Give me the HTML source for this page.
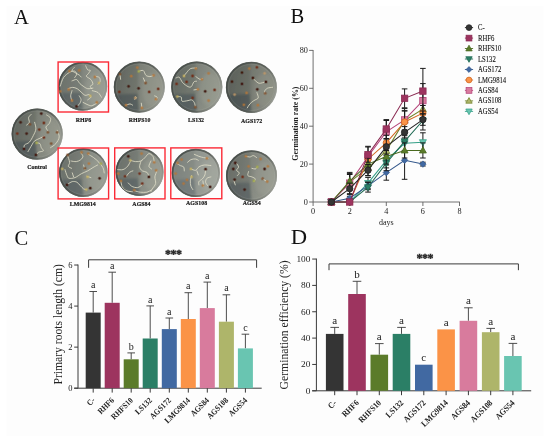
<!DOCTYPE html>
<html><head><meta charset="utf-8"><title>Figure</title>
<style>html,body{margin:0;padding:0;background:#fff}svg{display:block}text{font-family:"Liberation Serif","DejaVu Serif",serif}</style>
</head><body>
<svg width="550" height="436" viewBox="0 0 550 436">
<rect width="550" height="436" fill="#ffffff"/>
<rect x="6.5" y="6.2" width="537.1" height="430" fill="#fdfdfd"/>
<defs><linearGradient id="dl" x1="0" y1="0.4" x2="1" y2="0.6"><stop offset="0" stop-color="#686d66"/><stop offset="0.5" stop-color="#7e8279"/><stop offset="1" stop-color="#96998e"/></linearGradient><linearGradient id="rim" x1="0" y1="0.3" x2="1" y2="0.7"><stop offset="0" stop-color="#434946"/><stop offset="0.6" stop-color="#565b56"/><stop offset="0.9" stop-color="#8a8d86"/><stop offset="1" stop-color="#a0a39c"/></linearGradient><linearGradient id="rim2" x1="0" y1="0.3" x2="1" y2="0.7"><stop offset="0" stop-color="#8d928e"/><stop offset="1" stop-color="#b4b7b0"/></linearGradient><filter id="bl" x="-5%" y="-5%" width="110%" height="110%"><feGaussianBlur stdDeviation="0.35"/></filter><filter id="bl3" x="-20%" y="-20%" width="140%" height="140%"><feGaussianBlur stdDeviation="0.8"/></filter><filter id="bl2" x="-20%" y="-20%" width="140%" height="140%"><feGaussianBlur stdDeviation="1.6"/></filter></defs>
<text transform="translate(14 24.2) scale(1 1)" font-size="20.6" fill="#111">A</text>
<clipPath id="cp_control"><circle cx="37.2" cy="134.1" r="25.5"/></clipPath>
<g filter="url(#bl)">
<circle cx="37.2" cy="134.1" r="25.5" fill="url(#dl)"/>
<g clip-path="url(#cp_control)"><rect x="9.700000000000003" y="106.6" width="26.2" height="55.0" fill="#474d44" opacity="0.2" filter="url(#bl3)"/><path d="M9.700000000000003 141.8 L35.2 140.7 L37.7 162.2 L9.700000000000003 162.2 Z" fill="#36424c" opacity="0.42" filter="url(#bl3)"/><ellipse cx="50.0" cy="136.7" rx="10.2" ry="16.6" fill="#a0a296" opacity="0.3" filter="url(#bl2)"/></g>
<circle cx="37.2" cy="134.1" r="23.2" fill="none" stroke="url(#rim2)" stroke-width="0.6" opacity="0.3"/>
<circle cx="37.2" cy="134.1" r="24.8" fill="none" stroke="url(#rim)" stroke-width="1.7" opacity="0.88"/>
<path d="M31.3 114.3 C30.9 114.8 28.9 116.3 28.6 117.6 C28.3 118.9 29.6 121.1 29.3 122.3 C29.0 123.5 27.1 124.5 26.6 125.0" fill="none" stroke="#e2e0ca" stroke-width="0.95" stroke-linecap="round" stroke-linejoin="round" opacity="0.85"/>
<path d="M34.6 122.3 C34.8 123.4 36.1 126.7 35.9 128.9 C35.7 131.1 34.4 133.4 33.3 135.6 C32.2 137.8 30.8 140.6 29.3 142.2 C27.9 143.8 25.5 143.8 24.6 144.9 C23.7 146.0 24.1 148.2 24.0 148.9" fill="none" stroke="#e2e0ca" stroke-width="0.95" stroke-linecap="round" stroke-linejoin="round" opacity="0.85"/>
<path d="M46.6 115.0 C47.3 115.5 50.2 116.9 50.6 118.3 C51.0 119.7 50.0 122.1 49.2 123.6 C48.4 125.0 46.1 125.8 45.9 127.0 C45.7 128.2 47.6 130.2 47.9 130.9" fill="none" stroke="#e2e0ca" stroke-width="0.95" stroke-linecap="round" stroke-linejoin="round" opacity="0.85"/>
<path d="M43.9 136.3 C43.2 136.6 41.4 137.5 39.9 138.3 C38.4 139.1 35.9 139.8 34.6 140.9 C33.3 142.0 33.0 143.1 31.9 144.9 C30.8 146.7 28.6 150.5 28.0 151.6" fill="none" stroke="#e2e0ca" stroke-width="0.95" stroke-linecap="round" stroke-linejoin="round" opacity="0.85"/>
<path d="M36.6 142.9 C37.1 143.0 39.1 142.8 39.9 143.6 C40.7 144.4 40.7 146.4 41.3 147.6 C41.9 148.8 43.8 150.1 43.3 150.9 C42.8 151.7 39.8 151.5 38.6 152.2 C37.4 152.9 36.4 154.4 35.9 154.9" fill="none" stroke="#e2e0ca" stroke-width="0.95" stroke-linecap="round" stroke-linejoin="round" opacity="0.85"/>
<path d="M57.2 130.3 C57.5 131.4 59.4 134.7 59.2 136.9 C59.0 139.1 57.3 141.8 55.9 143.6 C54.5 145.4 51.5 146.9 50.6 147.6" fill="none" stroke="#e2e0ca" stroke-width="0.95" stroke-linecap="round" stroke-linejoin="round" opacity="0.85"/>
<circle cx="41.3" cy="113.6" r="1.9" fill="#40190f" opacity="0.3"/><circle cx="41.3" cy="113.6" r="1.15" fill="#40190f" opacity="0.95"/>
<circle cx="20.6" cy="122.3" r="1.9" fill="#40190f" opacity="0.3"/><circle cx="20.6" cy="122.3" r="1.15" fill="#40190f" opacity="0.95"/>
<circle cx="30" cy="124.3" r="1.9" fill="#7c4c2a" opacity="0.3"/><circle cx="30" cy="124.3" r="1.15" fill="#7c4c2a" opacity="0.75"/>
<circle cx="43.9" cy="123" r="1.9" fill="#70301c" opacity="0.3"/><circle cx="43.9" cy="123" r="1.15" fill="#70301c" opacity="0.95"/>
<circle cx="39.3" cy="129.6" r="1.9" fill="#70301c" opacity="0.3"/><circle cx="39.3" cy="129.6" r="1.15" fill="#70301c" opacity="0.95"/>
<circle cx="17.3" cy="133.6" r="1.9" fill="#70301c" opacity="0.3"/><circle cx="17.3" cy="133.6" r="1.15" fill="#70301c" opacity="0.95"/>
<circle cx="26.6" cy="133.6" r="1.9" fill="#40190f" opacity="0.3"/><circle cx="26.6" cy="133.6" r="1.15" fill="#40190f" opacity="0.95"/>
<circle cx="47.9" cy="132.3" r="1.9" fill="#7c4c2a" opacity="0.3"/><circle cx="47.9" cy="132.3" r="1.15" fill="#7c4c2a" opacity="0.75"/>
<circle cx="57.2" cy="132.3" r="1.9" fill="#7c4c2a" opacity="0.3"/><circle cx="57.2" cy="132.3" r="1.15" fill="#7c4c2a" opacity="0.75"/>
<circle cx="43.9" cy="137.6" r="1.9" fill="#70301c" opacity="0.3"/><circle cx="43.9" cy="137.6" r="1.15" fill="#70301c" opacity="0.95"/>
<circle cx="51.2" cy="143.6" r="1.9" fill="#7c4c2a" opacity="0.3"/><circle cx="51.2" cy="143.6" r="1.15" fill="#7c4c2a" opacity="0.75"/>
<circle cx="24" cy="148.9" r="1.9" fill="#40190f" opacity="0.3"/><circle cx="24" cy="148.9" r="1.15" fill="#40190f" opacity="0.95"/>
<circle cx="35.9" cy="154.9" r="1.9" fill="#40190f" opacity="0.3"/><circle cx="35.9" cy="154.9" r="1.15" fill="#40190f" opacity="0.95"/>
<circle cx="36.6" cy="142.9" r="1.9" fill="#a3aa4a" opacity="0.3"/><circle cx="36.6" cy="142.9" r="1.15" fill="#a3aa4a" opacity="0.75"/>
</g>
<clipPath id="cp_rhf6"><circle cx="82.8" cy="86.3" r="24.3"/></clipPath>
<g filter="url(#bl)">
<circle cx="82.8" cy="86.3" r="24.3" fill="url(#dl)"/>
<g clip-path="url(#cp_rhf6)"><rect x="56.5" y="60.0" width="25.1" height="52.6" fill="#474d44" opacity="0.2" filter="url(#bl3)"/><path d="M56.5 93.6 L80.9 92.6 L83.3 113.0 L56.5 113.0 Z" fill="#36424c" opacity="0.42" filter="url(#bl3)"/><ellipse cx="95.0" cy="88.7" rx="9.7" ry="15.8" fill="#a0a296" opacity="0.3" filter="url(#bl2)"/></g>
<circle cx="82.8" cy="86.3" r="24.3" fill="#c8d0d0" opacity="0.10"/>
<circle cx="82.8" cy="86.3" r="22.0" fill="none" stroke="url(#rim2)" stroke-width="0.6" opacity="0.3"/>
<circle cx="82.8" cy="86.3" r="23.6" fill="none" stroke="url(#rim)" stroke-width="1.7" opacity="0.88"/>
<path d="M60.2 86.1 C60.8 84.7 62.0 79.9 63.5 77.6 C65.0 75.3 67.6 73.5 69.4 72.4 C71.2 71.3 73.4 70.8 74.6 71.1 C75.8 71.4 76.6 73.2 76.6 74.3 C76.6 75.4 74.9 77.0 74.6 77.6" fill="none" stroke="#e2e0ca" stroke-width="0.95" stroke-linecap="round" stroke-linejoin="round" opacity="0.85"/>
<path d="M74.6 67.2 C74.2 67.7 72.0 69.5 72.0 70.4 C72.0 71.3 73.4 71.6 74.6 72.4 C75.8 73.2 78.1 74.2 79.2 75.0 C80.3 75.8 80.8 76.7 81.1 77.0" fill="none" stroke="#e2e0ca" stroke-width="0.95" stroke-linecap="round" stroke-linejoin="round" opacity="0.85"/>
<path d="M85.7 65.8 C86.0 66.5 86.9 69.0 87.7 69.8 C88.5 70.6 90.2 69.8 90.3 70.4 C90.4 71.1 88.9 72.7 88.3 73.7 C87.7 74.7 86.0 75.3 86.4 76.3 C86.8 77.3 89.8 78.3 90.9 79.6 C92.0 80.9 93.0 83.0 92.9 84.1 C92.8 85.2 90.5 85.3 90.3 86.1 C90.1 86.9 91.4 88.3 91.6 88.7" fill="none" stroke="#e2e0ca" stroke-width="0.95" stroke-linecap="round" stroke-linejoin="round" opacity="0.85"/>
<path d="M72.0 80.9 C72.8 80.7 75.3 79.2 76.6 79.6 C77.9 80.0 78.7 82.4 79.8 83.5 C80.9 84.6 81.8 85.2 83.1 86.1 C84.4 87.0 86.1 88.4 87.7 88.7 C89.3 89.0 92.0 88.2 92.9 88.1" fill="none" stroke="#e2e0ca" stroke-width="0.95" stroke-linecap="round" stroke-linejoin="round" opacity="0.85"/>
<path d="M68.1 88.7 C68.8 88.5 71.1 87.4 72.6 87.4 C74.1 87.4 75.8 87.9 77.2 88.7 C78.6 89.5 79.8 90.9 81.1 92.0 C82.4 93.1 83.8 94.9 85.1 95.3 C86.4 95.7 88.0 94.3 89.0 94.6 C90.0 94.9 91.1 96.3 90.9 97.2 C90.7 98.1 88.2 99.4 87.7 99.8" fill="none" stroke="#e2e0ca" stroke-width="0.95" stroke-linecap="round" stroke-linejoin="round" opacity="0.85"/>
<path d="M72.0 90.7 C71.8 91.6 70.7 94.2 70.7 95.9 C70.7 97.6 71.8 100.2 72.0 101.1" fill="none" stroke="#e2e0ca" stroke-width="0.95" stroke-linecap="round" stroke-linejoin="round" opacity="0.85"/>
<path d="M79.2 95.9 C79.5 96.6 81.1 98.4 81.1 99.8 C81.1 101.2 80.0 103.3 79.2 104.4 C78.5 105.5 77.0 106.1 76.6 106.4" fill="none" stroke="#e2e0ca" stroke-width="0.95" stroke-linecap="round" stroke-linejoin="round" opacity="0.85"/>
<path d="M95.5 76.3 C96.2 76.5 98.6 76.7 99.4 77.6 C100.2 78.5 100.3 80.4 100.1 81.5 C99.9 82.6 98.4 83.7 98.1 84.1" fill="none" stroke="#e2e0ca" stroke-width="0.95" stroke-linecap="round" stroke-linejoin="round" opacity="0.85"/>
<path d="M83.1 102.4 C83.8 102.7 85.6 103.9 87.0 104.4 C88.4 105.0 90.0 105.9 91.6 105.7 C93.2 105.5 95.9 103.5 96.8 103.1" fill="none" stroke="#e2e0ca" stroke-width="0.95" stroke-linecap="round" stroke-linejoin="round" opacity="0.85"/>
<path d="M92.3 90.7 C93.3 91.0 96.6 91.5 98.1 92.6 C99.6 93.7 100.9 96.4 101.4 97.2" fill="none" stroke="#e2e0ca" stroke-width="0.95" stroke-linecap="round" stroke-linejoin="round" opacity="0.85"/>
<circle cx="69.4" cy="71.1" r="1.9" fill="#b4763a" opacity="0.3"/><circle cx="69.4" cy="71.1" r="1.15" fill="#b4763a" opacity="0.75"/>
<circle cx="79.2" cy="70.4" r="1.9" fill="#b4763a" opacity="0.3"/><circle cx="79.2" cy="70.4" r="1.15" fill="#b4763a" opacity="0.75"/>
<circle cx="94.9" cy="77" r="1.9" fill="#b4763a" opacity="0.3"/><circle cx="94.9" cy="77" r="1.15" fill="#b4763a" opacity="0.75"/>
<circle cx="60.2" cy="91.3" r="1.9" fill="#b4763a" opacity="0.3"/><circle cx="60.2" cy="91.3" r="1.15" fill="#b4763a" opacity="0.75"/>
<circle cx="72" cy="100.5" r="1.9" fill="#b4763a" opacity="0.3"/><circle cx="72" cy="100.5" r="1.15" fill="#b4763a" opacity="0.75"/>
<circle cx="76.6" cy="106.4" r="1.9" fill="#40190f" opacity="0.3"/><circle cx="76.6" cy="106.4" r="1.15" fill="#40190f" opacity="0.95"/>
<circle cx="96.8" cy="102.4" r="1.9" fill="#b4763a" opacity="0.3"/><circle cx="96.8" cy="102.4" r="1.15" fill="#b4763a" opacity="0.75"/>
<circle cx="68.7" cy="89.4" r="1.9" fill="#b4763a" opacity="0.3"/><circle cx="68.7" cy="89.4" r="1.15" fill="#b4763a" opacity="0.75"/>
<circle cx="90.3" cy="95.9" r="1.9" fill="#c4b060" opacity="0.3"/><circle cx="90.3" cy="95.9" r="1.15" fill="#c4b060" opacity="0.75"/>
<circle cx="99" cy="83" r="1.9" fill="#c4b060" opacity="0.3"/><circle cx="99" cy="83" r="1.15" fill="#c4b060" opacity="0.75"/>
</g>
<clipPath id="cp_rhfs10"><circle cx="139.3" cy="87.1" r="25.4"/></clipPath>
<g filter="url(#bl)">
<circle cx="139.3" cy="87.1" r="25.4" fill="url(#dl)"/>
<g clip-path="url(#cp_rhfs10)"><rect x="111.9" y="59.699999999999996" width="26.1" height="54.8" fill="#474d44" opacity="0.2" filter="url(#bl3)"/><path d="M111.9 94.7 L137.3 93.7 L139.8 115.0 L111.9 115.0 Z" fill="#36424c" opacity="0.42" filter="url(#bl3)"/><ellipse cx="152.0" cy="89.6" rx="10.2" ry="16.5" fill="#a0a296" opacity="0.3" filter="url(#bl2)"/></g>
<circle cx="139.3" cy="87.1" r="23.099999999999998" fill="none" stroke="url(#rim2)" stroke-width="0.6" opacity="0.3"/>
<circle cx="139.3" cy="87.1" r="24.7" fill="none" stroke="url(#rim)" stroke-width="1.7" opacity="0.88"/>
<path d="M138.6 71.3 C139.4 71.2 142.1 69.9 143.3 70.6 C144.5 71.3 144.8 74.3 145.9 75.3 C147.0 76.3 148.7 76.5 149.9 76.6 C151.1 76.6 152.6 75.8 153.2 75.6" fill="none" stroke="#e2e0ca" stroke-width="0.95" stroke-linecap="round" stroke-linejoin="round" opacity="0.85"/>
<path d="M120.0 74.6 L120.6 79.3" fill="none" stroke="#e2e0ca" stroke-width="0.95" stroke-linecap="round" stroke-linejoin="round" opacity="0.85"/>
<path d="M143.3 78.0 L145.3 82.6" fill="none" stroke="#e2e0ca" stroke-width="0.95" stroke-linecap="round" stroke-linejoin="round" opacity="0.85"/>
<path d="M135.3 96.6 C135.5 96.8 136.7 97.5 136.6 97.9 C136.5 98.3 134.9 99.0 134.6 99.2" fill="none" stroke="#e2e0ca" stroke-width="0.95" stroke-linecap="round" stroke-linejoin="round" opacity="0.85"/>
<path d="M154.6 95.9 C155.0 96.1 157.0 96.5 157.2 97.2 C157.4 97.9 156.1 99.5 155.9 99.9" fill="none" stroke="#e2e0ca" stroke-width="0.95" stroke-linecap="round" stroke-linejoin="round" opacity="0.85"/>
<path d="M126.0 105.2 C126.7 105.0 128.9 103.9 130.0 103.9 C131.1 103.9 132.2 105.0 132.6 105.2" fill="none" stroke="#e2e0ca" stroke-width="0.95" stroke-linecap="round" stroke-linejoin="round" opacity="0.85"/>
<path d="M141.3 103.2 L141.9 107.9" fill="none" stroke="#e2e0ca" stroke-width="0.95" stroke-linecap="round" stroke-linejoin="round" opacity="0.85"/>
<circle cx="137.3" cy="67.6" r="1.9" fill="#b4763a" opacity="0.3"/><circle cx="137.3" cy="67.6" r="1.15" fill="#b4763a" opacity="0.75"/>
<circle cx="131.3" cy="76.2" r="1.9" fill="#b4763a" opacity="0.3"/><circle cx="131.3" cy="76.2" r="1.15" fill="#b4763a" opacity="0.75"/>
<circle cx="120" cy="74.2" r="1.9" fill="#7c4c2a" opacity="0.3"/><circle cx="120" cy="74.2" r="1.15" fill="#7c4c2a" opacity="0.75"/>
<circle cx="153.6" cy="75.3" r="1.9" fill="#b4763a" opacity="0.3"/><circle cx="153.6" cy="75.3" r="1.15" fill="#b4763a" opacity="0.75"/>
<circle cx="128.6" cy="86.3" r="1.9" fill="#40190f" opacity="0.3"/><circle cx="128.6" cy="86.3" r="1.15" fill="#40190f" opacity="0.95"/>
<circle cx="138.6" cy="88.3" r="1.9" fill="#40190f" opacity="0.3"/><circle cx="138.6" cy="88.3" r="1.15" fill="#40190f" opacity="0.95"/>
<circle cx="145.6" cy="83" r="1.9" fill="#7c4c2a" opacity="0.3"/><circle cx="145.6" cy="83" r="1.15" fill="#7c4c2a" opacity="0.75"/>
<circle cx="149.2" cy="91.9" r="1.9" fill="#70301c" opacity="0.3"/><circle cx="149.2" cy="91.9" r="1.15" fill="#70301c" opacity="0.95"/>
<circle cx="158.2" cy="88.9" r="1.9" fill="#70301c" opacity="0.3"/><circle cx="158.2" cy="88.9" r="1.15" fill="#70301c" opacity="0.95"/>
<circle cx="119.3" cy="91.9" r="1.9" fill="#70301c" opacity="0.3"/><circle cx="119.3" cy="91.9" r="1.15" fill="#70301c" opacity="0.95"/>
<circle cx="135.3" cy="97.9" r="1.9" fill="#c09868" opacity="0.3"/><circle cx="135.3" cy="97.9" r="1.15" fill="#c09868" opacity="0.75"/>
<circle cx="155.9" cy="99.2" r="1.9" fill="#b4763a" opacity="0.3"/><circle cx="155.9" cy="99.2" r="1.15" fill="#b4763a" opacity="0.75"/>
<circle cx="126" cy="105.2" r="1.9" fill="#b4763a" opacity="0.3"/><circle cx="126" cy="105.2" r="1.15" fill="#b4763a" opacity="0.75"/>
<circle cx="141.9" cy="107.9" r="1.9" fill="#b4763a" opacity="0.3"/><circle cx="141.9" cy="107.9" r="1.15" fill="#b4763a" opacity="0.75"/>
<circle cx="138.8" cy="71.4" r="1.9" fill="#a3aa4a" opacity="0.3"/><circle cx="138.8" cy="71.4" r="1.15" fill="#a3aa4a" opacity="0.75"/>
</g>
<clipPath id="cp_ls132"><circle cx="196.8" cy="87.1" r="25.5"/></clipPath>
<g filter="url(#bl)">
<circle cx="196.8" cy="87.1" r="25.5" fill="url(#dl)"/>
<g clip-path="url(#cp_ls132)"><rect x="169.3" y="59.599999999999994" width="26.2" height="55.0" fill="#474d44" opacity="0.2" filter="url(#bl3)"/><path d="M169.3 94.8 L194.8 93.7 L197.3 115.1 L169.3 115.1 Z" fill="#36424c" opacity="0.42" filter="url(#bl3)"/><ellipse cx="209.6" cy="89.6" rx="10.2" ry="16.6" fill="#a0a296" opacity="0.3" filter="url(#bl2)"/></g>
<circle cx="196.8" cy="87.1" r="25.5" fill="#c8d0d0" opacity="0.03"/>
<circle cx="196.8" cy="87.1" r="23.2" fill="none" stroke="url(#rim2)" stroke-width="0.6" opacity="0.3"/>
<circle cx="196.8" cy="87.1" r="24.8" fill="none" stroke="url(#rim)" stroke-width="1.7" opacity="0.88"/>
<path d="M196.6 68.0 C195.6 68.1 192.3 67.8 190.6 68.6 C188.9 69.4 187.7 71.4 186.6 72.6 C185.5 73.8 184.4 75.4 184.0 76.0" fill="none" stroke="#e2e0ca" stroke-width="0.95" stroke-linecap="round" stroke-linejoin="round" opacity="0.85"/>
<path d="M176.0 78.0 C176.6 77.9 178.2 76.5 179.3 77.3 C180.4 78.1 181.2 81.0 182.6 82.6 C184.0 84.1 186.6 85.9 188.0 86.6 C189.4 87.3 190.3 87.4 191.3 86.6 C192.3 85.8 193.0 82.8 193.9 81.9 C194.8 81.0 196.2 81.4 196.6 81.3" fill="none" stroke="#e2e0ca" stroke-width="0.95" stroke-linecap="round" stroke-linejoin="round" opacity="0.85"/>
<path d="M195.9 76.6 C196.6 77.0 198.8 79.0 199.9 79.3 C201.0 79.6 202.2 78.7 202.6 78.6" fill="none" stroke="#e2e0ca" stroke-width="0.95" stroke-linecap="round" stroke-linejoin="round" opacity="0.85"/>
<path d="M178.0 96.6 C178.6 96.7 180.6 96.4 181.3 97.2 C182.0 98.0 180.9 100.6 182.0 101.2 C183.1 101.8 186.3 100.8 188.0 100.6 C189.7 100.4 190.8 99.5 191.9 99.9 C193.0 100.3 194.0 102.0 194.6 103.2 C195.2 104.4 195.2 106.5 195.3 107.2" fill="none" stroke="#e2e0ca" stroke-width="0.95" stroke-linecap="round" stroke-linejoin="round" opacity="0.85"/>
<path d="M193.9 89.9 L197.9 89.3" fill="none" stroke="#e2e0ca" stroke-width="0.95" stroke-linecap="round" stroke-linejoin="round" opacity="0.85"/>
<circle cx="195.9" cy="68.6" r="1.9" fill="#b4763a" opacity="0.3"/><circle cx="195.9" cy="68.6" r="1.15" fill="#b4763a" opacity="0.75"/>
<circle cx="208.6" cy="73.3" r="1.9" fill="#b4763a" opacity="0.3"/><circle cx="208.6" cy="73.3" r="1.15" fill="#b4763a" opacity="0.75"/>
<circle cx="192.6" cy="76" r="1.9" fill="#70301c" opacity="0.3"/><circle cx="192.6" cy="76" r="1.15" fill="#70301c" opacity="0.95"/>
<circle cx="184" cy="76" r="1.9" fill="#c4b060" opacity="0.3"/><circle cx="184" cy="76" r="1.15" fill="#c4b060" opacity="0.75"/>
<circle cx="176.6" cy="83.9" r="1.9" fill="#70301c" opacity="0.3"/><circle cx="176.6" cy="83.9" r="1.15" fill="#70301c" opacity="0.95"/>
<circle cx="186.6" cy="81.9" r="1.9" fill="#70301c" opacity="0.3"/><circle cx="186.6" cy="81.9" r="1.15" fill="#70301c" opacity="0.95"/>
<circle cx="201.9" cy="79.3" r="1.9" fill="#b4763a" opacity="0.3"/><circle cx="201.9" cy="79.3" r="1.15" fill="#b4763a" opacity="0.75"/>
<circle cx="205.2" cy="91.3" r="1.9" fill="#40190f" opacity="0.3"/><circle cx="205.2" cy="91.3" r="1.15" fill="#40190f" opacity="0.95"/>
<circle cx="214.6" cy="89.9" r="1.9" fill="#70301c" opacity="0.3"/><circle cx="214.6" cy="89.9" r="1.15" fill="#70301c" opacity="0.95"/>
<circle cx="197.9" cy="89.3" r="1.9" fill="#b4763a" opacity="0.3"/><circle cx="197.9" cy="89.3" r="1.15" fill="#b4763a" opacity="0.75"/>
<circle cx="192.6" cy="97.9" r="1.9" fill="#70301c" opacity="0.3"/><circle cx="192.6" cy="97.9" r="1.15" fill="#70301c" opacity="0.95"/>
<circle cx="208.6" cy="100.6" r="1.9" fill="#b4763a" opacity="0.3"/><circle cx="208.6" cy="100.6" r="1.15" fill="#b4763a" opacity="0.75"/>
<circle cx="195.3" cy="107.2" r="1.9" fill="#7c4c2a" opacity="0.3"/><circle cx="195.3" cy="107.2" r="1.15" fill="#7c4c2a" opacity="0.75"/>
<circle cx="177.3" cy="96.6" r="1.9" fill="#c4b060" opacity="0.3"/><circle cx="177.3" cy="96.6" r="1.15" fill="#c4b060" opacity="0.75"/>
</g>
<clipPath id="cp_ags172"><circle cx="251.4" cy="87.4" r="25.4"/></clipPath>
<g filter="url(#bl)">
<circle cx="251.4" cy="87.4" r="25.4" fill="url(#dl)"/>
<g clip-path="url(#cp_ags172)"><rect x="224.0" y="60.00000000000001" width="26.1" height="54.8" fill="#474d44" opacity="0.2" filter="url(#bl3)"/><path d="M224.0 95.0 L249.4 94.0 L251.9 115.3 L224.0 115.3 Z" fill="#36424c" opacity="0.42" filter="url(#bl3)"/><ellipse cx="264.1" cy="89.9" rx="10.2" ry="16.5" fill="#a0a296" opacity="0.3" filter="url(#bl2)"/></g>
<circle cx="251.4" cy="87.4" r="25.4" fill="#000" opacity="0.05"/>
<circle cx="251.4" cy="87.4" r="23.099999999999998" fill="none" stroke="url(#rim2)" stroke-width="0.6" opacity="0.3"/>
<circle cx="251.4" cy="87.4" r="24.7" fill="none" stroke="url(#rim)" stroke-width="1.7" opacity="0.88"/>
<path d="M252.6 78.0 C253.1 78.4 254.2 79.7 255.3 80.6 C256.4 81.5 257.6 83.1 259.2 83.3 C260.8 83.5 264.2 82.1 265.2 81.9" fill="none" stroke="#e2e0ca" stroke-width="0.95" stroke-linecap="round" stroke-linejoin="round" opacity="0.85"/>
<path d="M272.6 87.3 C271.7 87.5 268.5 87.6 267.2 88.3 C265.9 89.0 264.9 90.4 264.6 91.3 C264.3 92.2 265.1 93.5 265.2 93.9" fill="none" stroke="#e2e0ca" stroke-width="0.95" stroke-linecap="round" stroke-linejoin="round" opacity="0.85"/>
<path d="M256.9 92.6 C257.1 93.5 258.7 96.6 258.2 97.9 C257.7 99.2 255.3 99.6 253.9 100.6 C252.5 101.6 251.0 102.7 249.9 103.9 C248.8 105.1 247.7 107.2 247.3 107.9" fill="none" stroke="#e2e0ca" stroke-width="0.95" stroke-linecap="round" stroke-linejoin="round" opacity="0.85"/>
<circle cx="249.3" cy="68.6" r="1.9" fill="#b4763a" opacity="0.3"/><circle cx="249.3" cy="68.6" r="1.15" fill="#b4763a" opacity="0.75"/>
<circle cx="256.9" cy="67.3" r="1.9" fill="#70301c" opacity="0.3"/><circle cx="256.9" cy="67.3" r="1.15" fill="#70301c" opacity="0.95"/>
<circle cx="242" cy="72.6" r="1.9" fill="#40190f" opacity="0.3"/><circle cx="242" cy="72.6" r="1.15" fill="#40190f" opacity="0.95"/>
<circle cx="264.6" cy="73.3" r="1.9" fill="#c09868" opacity="0.3"/><circle cx="264.6" cy="73.3" r="1.15" fill="#c09868" opacity="0.75"/>
<circle cx="252.9" cy="78" r="1.9" fill="#40190f" opacity="0.3"/><circle cx="252.9" cy="78" r="1.15" fill="#40190f" opacity="0.95"/>
<circle cx="232" cy="81.7" r="1.9" fill="#40190f" opacity="0.3"/><circle cx="232" cy="81.7" r="1.15" fill="#40190f" opacity="0.95"/>
<circle cx="242" cy="83.9" r="1.9" fill="#40190f" opacity="0.3"/><circle cx="242" cy="83.9" r="1.15" fill="#40190f" opacity="0.95"/>
<circle cx="265.9" cy="81.9" r="1.9" fill="#40190f" opacity="0.3"/><circle cx="265.9" cy="81.9" r="1.15" fill="#40190f" opacity="0.95"/>
<circle cx="257.3" cy="89.3" r="1.9" fill="#40190f" opacity="0.3"/><circle cx="257.3" cy="89.3" r="1.15" fill="#40190f" opacity="0.95"/>
<circle cx="246.6" cy="92.9" r="1.9" fill="#b4763a" opacity="0.3"/><circle cx="246.6" cy="92.9" r="1.15" fill="#b4763a" opacity="0.75"/>
<circle cx="234.6" cy="94.6" r="1.9" fill="#c09868" opacity="0.3"/><circle cx="234.6" cy="94.6" r="1.15" fill="#c09868" opacity="0.75"/>
<circle cx="265.2" cy="93.3" r="1.9" fill="#7c4c2a" opacity="0.3"/><circle cx="265.2" cy="93.3" r="1.15" fill="#7c4c2a" opacity="0.75"/>
<circle cx="243.9" cy="104.8" r="1.9" fill="#b4763a" opacity="0.3"/><circle cx="243.9" cy="104.8" r="1.15" fill="#b4763a" opacity="0.75"/>
<circle cx="257.9" cy="105.2" r="1.9" fill="#b4763a" opacity="0.3"/><circle cx="257.9" cy="105.2" r="1.15" fill="#b4763a" opacity="0.75"/>
</g>
<clipPath id="cp_lmg9814"><circle cx="83.3" cy="172.6" r="24.2"/></clipPath>
<g filter="url(#bl)">
<circle cx="83.3" cy="172.6" r="24.2" fill="url(#dl)"/>
<g clip-path="url(#cp_lmg9814)"><rect x="57.099999999999994" y="146.4" width="25.0" height="52.4" fill="#474d44" opacity="0.2" filter="url(#bl3)"/><path d="M57.099999999999994 179.9 L81.4 178.9 L83.8 199.2 L57.099999999999994 199.2 Z" fill="#36424c" opacity="0.42" filter="url(#bl3)"/><ellipse cx="95.4" cy="175.0" rx="9.7" ry="15.7" fill="#a0a296" opacity="0.3" filter="url(#bl2)"/></g>
<circle cx="83.3" cy="172.6" r="24.2" fill="#c8d0d0" opacity="0.10"/>
<circle cx="83.3" cy="172.6" r="21.9" fill="none" stroke="url(#rim2)" stroke-width="0.6" opacity="0.3"/>
<circle cx="83.3" cy="172.6" r="23.5" fill="none" stroke="url(#rim)" stroke-width="1.7" opacity="0.88"/>
<path d="M67.6 155.6 C67.9 156.7 69.5 160.5 69.6 162.3 C69.7 164.1 68.0 165.3 68.3 166.3 C68.6 167.3 71.0 168.0 71.6 168.3" fill="none" stroke="#e2e0ca" stroke-width="0.95" stroke-linecap="round" stroke-linejoin="round" opacity="0.85"/>
<path d="M71.0 161.0 C71.9 161.1 74.6 161.8 76.3 161.6 C78.0 161.4 79.8 160.5 80.9 159.6 C82.0 158.7 82.9 157.4 82.9 156.3 C82.9 155.2 81.2 153.6 80.9 153.0" fill="none" stroke="#e2e0ca" stroke-width="0.95" stroke-linecap="round" stroke-linejoin="round" opacity="0.85"/>
<path d="M88.3 154.3 C89.2 154.9 91.8 156.3 93.6 157.6 C95.4 158.9 97.4 160.6 98.9 162.3 C100.5 164.0 102.0 165.8 102.9 167.6 C103.8 169.4 104.0 172.0 104.2 172.9" fill="none" stroke="#e2e0ca" stroke-width="0.95" stroke-linecap="round" stroke-linejoin="round" opacity="0.85"/>
<path d="M65.0 169.6 C65.3 170.6 66.3 174.1 67.0 175.6 C67.7 177.1 67.7 178.0 69.0 178.3 C70.3 178.6 72.9 178.4 75.0 177.6 C77.1 176.8 79.5 174.7 81.6 173.6 C83.7 172.5 85.7 171.9 87.6 170.9 C89.5 169.9 91.2 168.6 92.9 167.6 C94.6 166.6 96.8 165.4 97.6 165.0" fill="none" stroke="#e2e0ca" stroke-width="0.95" stroke-linecap="round" stroke-linejoin="round" opacity="0.85"/>
<path d="M83.6 165.0 L84.9 169.6" fill="none" stroke="#e2e0ca" stroke-width="0.95" stroke-linecap="round" stroke-linejoin="round" opacity="0.85"/>
<path d="M72.3 172.9 L73.6 176.9" fill="none" stroke="#e2e0ca" stroke-width="0.95" stroke-linecap="round" stroke-linejoin="round" opacity="0.85"/>
<path d="M67.6 184.2 C68.4 183.8 70.8 181.9 72.3 181.6 C73.8 181.3 75.6 181.5 76.9 182.2 C78.2 182.9 79.2 184.5 80.3 185.6 C81.4 186.7 82.6 188.2 83.6 188.9 C84.6 189.6 85.8 189.5 86.3 189.6" fill="none" stroke="#e2e0ca" stroke-width="0.95" stroke-linecap="round" stroke-linejoin="round" opacity="0.85"/>
<path d="M86.9 176.3 L90.9 177.6" fill="none" stroke="#e2e0ca" stroke-width="0.95" stroke-linecap="round" stroke-linejoin="round" opacity="0.85"/>
<circle cx="67.6" cy="155" r="1.9" fill="#7c4c2a" opacity="0.3"/><circle cx="67.6" cy="155" r="1.15" fill="#7c4c2a" opacity="0.75"/>
<circle cx="81.6" cy="152.3" r="1.9" fill="#b4763a" opacity="0.3"/><circle cx="81.6" cy="152.3" r="1.15" fill="#b4763a" opacity="0.75"/>
<circle cx="88.3" cy="153.6" r="1.9" fill="#b4763a" opacity="0.3"/><circle cx="88.3" cy="153.6" r="1.15" fill="#b4763a" opacity="0.75"/>
<circle cx="88.9" cy="163.6" r="1.9" fill="#b4763a" opacity="0.3"/><circle cx="88.9" cy="163.6" r="1.15" fill="#b4763a" opacity="0.75"/>
<circle cx="99.6" cy="178.3" r="1.9" fill="#40190f" opacity="0.3"/><circle cx="99.6" cy="178.3" r="1.15" fill="#40190f" opacity="0.95"/>
<circle cx="90.3" cy="188.2" r="1.9" fill="#40190f" opacity="0.3"/><circle cx="90.3" cy="188.2" r="1.15" fill="#40190f" opacity="0.95"/>
<circle cx="67" cy="184.9" r="1.9" fill="#40190f" opacity="0.3"/><circle cx="67" cy="184.9" r="1.15" fill="#40190f" opacity="0.95"/>
<circle cx="62.3" cy="168.9" r="1.9" fill="#c4b060" opacity="0.3"/><circle cx="62.3" cy="168.9" r="1.15" fill="#c4b060" opacity="0.75"/>
<circle cx="100.9" cy="163.6" r="1.9" fill="#a3aa4a" opacity="0.3"/><circle cx="100.9" cy="163.6" r="1.15" fill="#a3aa4a" opacity="0.75"/>
<circle cx="87.6" cy="176.9" r="1.9" fill="#c4b060" opacity="0.3"/><circle cx="87.6" cy="176.9" r="1.15" fill="#c4b060" opacity="0.75"/>
<circle cx="84.9" cy="168.3" r="1.9" fill="#7c4c2a" opacity="0.3"/><circle cx="84.9" cy="168.3" r="1.15" fill="#7c4c2a" opacity="0.75"/>
<circle cx="86.3" cy="189.6" r="1.9" fill="#c4b060" opacity="0.3"/><circle cx="86.3" cy="189.6" r="1.15" fill="#c4b060" opacity="0.75"/>
</g>
<clipPath id="cp_ags84"><circle cx="139.6" cy="172.0" r="23.9"/></clipPath>
<g filter="url(#bl)">
<circle cx="139.6" cy="172.0" r="23.9" fill="url(#dl)"/>
<g clip-path="url(#cp_ags84)"><rect x="113.69999999999999" y="146.1" width="24.7" height="51.8" fill="#474d44" opacity="0.2" filter="url(#bl3)"/><path d="M113.69999999999999 179.2 L137.7 178.2 L140.1 198.3 L113.69999999999999 198.3 Z" fill="#36424c" opacity="0.42" filter="url(#bl3)"/><ellipse cx="151.5" cy="174.4" rx="9.6" ry="15.5" fill="#a0a296" opacity="0.3" filter="url(#bl2)"/></g>
<circle cx="139.6" cy="172.0" r="23.9" fill="#c8d0d0" opacity="0.10"/>
<circle cx="139.6" cy="172.0" r="21.599999999999998" fill="none" stroke="url(#rim2)" stroke-width="0.6" opacity="0.3"/>
<circle cx="139.6" cy="172.0" r="23.2" fill="none" stroke="url(#rim)" stroke-width="1.7" opacity="0.88"/>
<path d="M130.3 160.3 C131.2 160.5 133.8 161.5 135.6 161.6 C137.4 161.7 139.3 161.7 140.9 161.0 C142.5 160.3 143.6 158.8 144.9 157.6 C146.2 156.4 147.6 153.8 148.9 153.6 C150.2 153.4 152.0 155.0 152.9 156.3 C153.8 157.6 154.0 160.7 154.2 161.6" fill="none" stroke="#e2e0ca" stroke-width="0.95" stroke-linecap="round" stroke-linejoin="round" opacity="0.85"/>
<path d="M117.7 169.6 C118.6 169.6 121.3 170.1 123.0 169.6 C124.7 169.1 126.4 167.6 127.6 166.3 C128.8 165.0 129.9 162.4 130.3 161.6" fill="none" stroke="#e2e0ca" stroke-width="0.95" stroke-linecap="round" stroke-linejoin="round" opacity="0.85"/>
<path d="M140.9 161.6 C140.7 162.5 139.4 165.3 139.6 166.9 C139.8 168.5 141.1 170.0 142.3 170.9 C143.5 171.8 145.8 171.4 146.9 172.3 C148.0 173.2 148.6 175.6 148.9 176.3" fill="none" stroke="#e2e0ca" stroke-width="0.95" stroke-linecap="round" stroke-linejoin="round" opacity="0.85"/>
<path d="M150.9 161.0 C150.6 161.9 148.8 165.0 148.9 166.3 C149.0 167.6 151.2 168.5 151.6 168.9" fill="none" stroke="#e2e0ca" stroke-width="0.95" stroke-linecap="round" stroke-linejoin="round" opacity="0.85"/>
<path d="M126.3 176.3 C126.8 175.6 128.5 173.2 129.6 172.3 C130.7 171.4 132.3 171.1 132.9 170.9" fill="none" stroke="#e2e0ca" stroke-width="0.95" stroke-linecap="round" stroke-linejoin="round" opacity="0.85"/>
<path d="M156.9 170.9 C156.6 171.9 155.1 174.8 154.9 176.9 C154.7 179.0 156.1 181.6 155.6 183.6 C155.1 185.6 153.0 187.6 152.2 188.9 C151.4 190.2 151.1 191.2 150.9 191.6" fill="none" stroke="#e2e0ca" stroke-width="0.95" stroke-linecap="round" stroke-linejoin="round" opacity="0.85"/>
<path d="M121.0 181.6 C121.2 182.5 121.3 185.3 122.3 186.9 C123.3 188.5 125.3 190.1 127.0 190.9 C128.7 191.7 131.4 191.5 132.3 191.6" fill="none" stroke="#e2e0ca" stroke-width="0.95" stroke-linecap="round" stroke-linejoin="round" opacity="0.85"/>
<path d="M128.3 182.9 C128.9 183.4 130.1 185.4 131.6 186.2 C133.1 187.0 135.7 187.9 137.6 187.6 C139.5 187.3 142.0 184.8 142.9 184.2" fill="none" stroke="#e2e0ca" stroke-width="0.95" stroke-linecap="round" stroke-linejoin="round" opacity="0.85"/>
<path d="M134.9 190.9 C135.8 191.1 138.3 192.0 140.3 192.2 C142.3 192.4 145.1 192.5 146.9 192.2 C148.7 191.9 150.2 190.5 150.9 190.2" fill="none" stroke="#e2e0ca" stroke-width="0.95" stroke-linecap="round" stroke-linejoin="round" opacity="0.85"/>
<circle cx="128.3" cy="156.3" r="1.9" fill="#40190f" opacity="0.3"/><circle cx="128.3" cy="156.3" r="1.15" fill="#40190f" opacity="0.95"/>
<circle cx="141.6" cy="153.6" r="1.9" fill="#b4763a" opacity="0.3"/><circle cx="141.6" cy="153.6" r="1.15" fill="#b4763a" opacity="0.75"/>
<circle cx="154.2" cy="162.3" r="1.9" fill="#b4763a" opacity="0.3"/><circle cx="154.2" cy="162.3" r="1.15" fill="#b4763a" opacity="0.75"/>
<circle cx="130.3" cy="160.3" r="1.9" fill="#c4b060" opacity="0.3"/><circle cx="130.3" cy="160.3" r="1.15" fill="#c4b060" opacity="0.75"/>
<circle cx="139.6" cy="173.6" r="1.9" fill="#70301c" opacity="0.3"/><circle cx="139.6" cy="173.6" r="1.15" fill="#70301c" opacity="0.95"/>
<circle cx="148.9" cy="176.9" r="1.9" fill="#40190f" opacity="0.3"/><circle cx="148.9" cy="176.9" r="1.15" fill="#40190f" opacity="0.95"/>
<circle cx="125" cy="176.3" r="1.9" fill="#70301c" opacity="0.3"/><circle cx="125" cy="176.3" r="1.15" fill="#70301c" opacity="0.95"/>
<circle cx="142.3" cy="183.6" r="1.9" fill="#70301c" opacity="0.3"/><circle cx="142.3" cy="183.6" r="1.15" fill="#70301c" opacity="0.95"/>
<circle cx="134.3" cy="190.2" r="1.9" fill="#b4763a" opacity="0.3"/><circle cx="134.3" cy="190.2" r="1.15" fill="#b4763a" opacity="0.75"/>
<circle cx="121" cy="180.9" r="1.9" fill="#b4763a" opacity="0.3"/><circle cx="121" cy="180.9" r="1.15" fill="#b4763a" opacity="0.75"/>
<circle cx="156.2" cy="170.3" r="1.9" fill="#b4763a" opacity="0.3"/><circle cx="156.2" cy="170.3" r="1.15" fill="#b4763a" opacity="0.75"/>
<circle cx="118.3" cy="173.6" r="1.9" fill="#b4763a" opacity="0.3"/><circle cx="118.3" cy="173.6" r="1.15" fill="#b4763a" opacity="0.75"/>
</g>
<clipPath id="cp_ags108"><circle cx="195.8" cy="172.9" r="24.0"/></clipPath>
<g filter="url(#bl)">
<circle cx="195.8" cy="172.9" r="24.0" fill="url(#dl)"/>
<g clip-path="url(#cp_ags108)"><rect x="169.8" y="146.9" width="24.8" height="52.0" fill="#474d44" opacity="0.2" filter="url(#bl3)"/><path d="M169.8 180.1 L193.9 179.1 L196.3 199.3 L169.8 199.3 Z" fill="#36424c" opacity="0.42" filter="url(#bl3)"/><ellipse cx="207.8" cy="175.3" rx="9.6" ry="15.6" fill="#a0a296" opacity="0.3" filter="url(#bl2)"/></g>
<circle cx="195.8" cy="172.9" r="24.0" fill="#c8d0d0" opacity="0.26"/>
<circle cx="195.8" cy="172.9" r="21.7" fill="none" stroke="url(#rim2)" stroke-width="0.6" opacity="0.3"/>
<circle cx="195.8" cy="172.9" r="23.3" fill="none" stroke="url(#rim)" stroke-width="1.7" opacity="0.88"/>
<path d="M194.3 154.3 C195.1 154.6 197.4 155.8 198.9 156.3 C200.4 156.9 202.1 157.3 203.6 157.6 C205.1 157.9 207.4 158.2 208.2 158.3" fill="none" stroke="#e2e0ca" stroke-width="0.95" stroke-linecap="round" stroke-linejoin="round" opacity="0.85"/>
<path d="M187.6 162.3 C188.2 161.9 189.6 160.2 190.9 159.6 C192.2 159.0 194.4 158.9 195.6 159.0 C196.8 159.1 197.9 160.1 198.3 160.3" fill="none" stroke="#e2e0ca" stroke-width="0.95" stroke-linecap="round" stroke-linejoin="round" opacity="0.85"/>
<path d="M177.0 163.6 C177.6 163.9 179.2 165.0 180.3 165.6 C181.4 166.2 182.9 166.0 183.6 166.9 C184.3 167.8 184.2 170.2 184.3 170.9" fill="none" stroke="#e2e0ca" stroke-width="0.95" stroke-linecap="round" stroke-linejoin="round" opacity="0.85"/>
<path d="M190.9 168.9 C191.7 169.1 194.3 170.6 195.6 170.3 C196.9 170.0 197.5 167.8 198.9 166.9 C200.3 166.0 202.2 165.2 204.2 165.0 C206.2 164.8 209.8 165.5 210.9 165.6" fill="none" stroke="#e2e0ca" stroke-width="0.95" stroke-linecap="round" stroke-linejoin="round" opacity="0.85"/>
<path d="M205.6 169.6 C205.5 170.5 205.4 173.3 204.9 174.9 C204.4 176.5 203.3 177.8 202.3 178.9 C201.3 180.0 199.5 180.6 198.9 181.6 C198.3 182.6 198.9 184.3 198.9 184.9" fill="none" stroke="#e2e0ca" stroke-width="0.95" stroke-linecap="round" stroke-linejoin="round" opacity="0.85"/>
<path d="M191.6 175.6 C191.4 176.5 190.4 179.1 190.3 180.9 C190.2 182.7 190.5 184.8 190.9 186.2 C191.3 187.6 192.6 189.0 192.9 189.6" fill="none" stroke="#e2e0ca" stroke-width="0.95" stroke-linecap="round" stroke-linejoin="round" opacity="0.85"/>
<path d="M210.9 176.9 C210.2 177.1 207.8 177.4 206.9 178.3 C206.0 179.2 205.5 181.0 205.6 182.2 C205.7 183.4 207.3 185.0 207.6 185.6" fill="none" stroke="#e2e0ca" stroke-width="0.95" stroke-linecap="round" stroke-linejoin="round" opacity="0.85"/>
<path d="M196.9 170.9 L198.3 174.9" fill="none" stroke="#e2e0ca" stroke-width="0.95" stroke-linecap="round" stroke-linejoin="round" opacity="0.85"/>
<path d="M202.9 180.9 L203.6 186.2" fill="none" stroke="#e2e0ca" stroke-width="0.95" stroke-linecap="round" stroke-linejoin="round" opacity="0.85"/>
<circle cx="181.6" cy="159.6" r="1.9" fill="#b4763a" opacity="0.3"/><circle cx="181.6" cy="159.6" r="1.15" fill="#b4763a" opacity="0.75"/>
<circle cx="177.6" cy="163" r="1.9" fill="#b4763a" opacity="0.3"/><circle cx="177.6" cy="163" r="1.15" fill="#b4763a" opacity="0.75"/>
<circle cx="206.9" cy="158.3" r="1.9" fill="#b4763a" opacity="0.3"/><circle cx="206.9" cy="158.3" r="1.15" fill="#b4763a" opacity="0.75"/>
<circle cx="205.6" cy="169.2" r="1.9" fill="#40190f" opacity="0.3"/><circle cx="205.6" cy="169.2" r="1.15" fill="#40190f" opacity="0.95"/>
<circle cx="175.6" cy="173.6" r="1.9" fill="#b4763a" opacity="0.3"/><circle cx="175.6" cy="173.6" r="1.15" fill="#b4763a" opacity="0.75"/>
<circle cx="187" cy="179.9" r="1.9" fill="#b4763a" opacity="0.3"/><circle cx="187" cy="179.9" r="1.15" fill="#b4763a" opacity="0.75"/>
<circle cx="183.6" cy="183.6" r="1.9" fill="#b4763a" opacity="0.3"/><circle cx="183.6" cy="183.6" r="1.15" fill="#b4763a" opacity="0.75"/>
<circle cx="210.2" cy="186.9" r="1.9" fill="#40190f" opacity="0.3"/><circle cx="210.2" cy="186.9" r="1.15" fill="#40190f" opacity="0.95"/>
<circle cx="202.9" cy="185.6" r="1.9" fill="#b4763a" opacity="0.3"/><circle cx="202.9" cy="185.6" r="1.15" fill="#b4763a" opacity="0.75"/>
<circle cx="190.9" cy="168.9" r="1.9" fill="#c4b060" opacity="0.3"/><circle cx="190.9" cy="168.9" r="1.15" fill="#c4b060" opacity="0.75"/>
<circle cx="191.6" cy="176.9" r="1.9" fill="#c4b060" opacity="0.3"/><circle cx="191.6" cy="176.9" r="1.15" fill="#c4b060" opacity="0.75"/>
</g>
<clipPath id="cp_ags54"><circle cx="251.5" cy="175.8" r="25.4"/></clipPath>
<g filter="url(#bl)">
<circle cx="251.5" cy="175.8" r="25.4" fill="url(#dl)"/>
<g clip-path="url(#cp_ags54)"><rect x="224.1" y="148.4" width="26.1" height="54.8" fill="#474d44" opacity="0.2" filter="url(#bl3)"/><path d="M224.1 183.4 L249.5 182.4 L252.0 203.7 L224.1 203.7 Z" fill="#36424c" opacity="0.42" filter="url(#bl3)"/><ellipse cx="264.2" cy="178.3" rx="10.2" ry="16.5" fill="#a0a296" opacity="0.3" filter="url(#bl2)"/></g>
<circle cx="251.5" cy="175.8" r="25.4" fill="#c8d0d0" opacity="0.08"/>
<circle cx="251.5" cy="175.8" r="23.099999999999998" fill="none" stroke="url(#rim2)" stroke-width="0.6" opacity="0.3"/>
<circle cx="251.5" cy="175.8" r="24.7" fill="none" stroke="url(#rim)" stroke-width="1.7" opacity="0.88"/>
<path d="M245.9 156.3 C246.6 156.4 248.7 157.1 249.9 157.0 C251.1 156.9 252.2 155.5 253.3 155.6 C254.4 155.7 256.1 157.3 256.6 157.6" fill="none" stroke="#e2e0ca" stroke-width="0.95" stroke-linecap="round" stroke-linejoin="round" opacity="0.85"/>
<path d="M236.6 163.6 C236.9 164.2 238.6 165.9 238.6 167.0 C238.6 168.1 236.5 169.3 236.6 170.3 C236.7 171.3 239.2 172.0 239.3 172.9 C239.4 173.8 237.6 175.2 237.3 175.6" fill="none" stroke="#e2e0ca" stroke-width="0.95" stroke-linecap="round" stroke-linejoin="round" opacity="0.85"/>
<path d="M251.9 168.3 C252.5 168.4 254.4 169.2 255.3 169.0 C256.2 168.8 257.0 167.3 257.3 167.0" fill="none" stroke="#e2e0ca" stroke-width="0.95" stroke-linecap="round" stroke-linejoin="round" opacity="0.85"/>
<path d="M248.6 171.6 C248.5 172.3 247.3 174.7 247.9 175.6 C248.5 176.5 250.7 176.3 251.9 176.9 C253.1 177.5 255.0 178.1 255.3 178.9 C255.6 179.7 254.1 181.2 253.9 181.6" fill="none" stroke="#e2e0ca" stroke-width="0.95" stroke-linecap="round" stroke-linejoin="round" opacity="0.85"/>
<path d="M234.0 180.9 L235.3 184.9" fill="none" stroke="#e2e0ca" stroke-width="0.95" stroke-linecap="round" stroke-linejoin="round" opacity="0.85"/>
<path d="M261.9 178.3 L265.9 180.9" fill="none" stroke="#e2e0ca" stroke-width="0.95" stroke-linecap="round" stroke-linejoin="round" opacity="0.85"/>
<circle cx="245.9" cy="156.3" r="1.9" fill="#b4763a" opacity="0.3"/><circle cx="245.9" cy="156.3" r="1.15" fill="#b4763a" opacity="0.75"/>
<circle cx="260.6" cy="159" r="1.9" fill="#b4763a" opacity="0.3"/><circle cx="260.6" cy="159" r="1.15" fill="#b4763a" opacity="0.75"/>
<circle cx="235.3" cy="163" r="1.9" fill="#40190f" opacity="0.3"/><circle cx="235.3" cy="163" r="1.15" fill="#40190f" opacity="0.95"/>
<circle cx="233.3" cy="169" r="1.9" fill="#40190f" opacity="0.3"/><circle cx="233.3" cy="169" r="1.15" fill="#40190f" opacity="0.95"/>
<circle cx="248.6" cy="166.3" r="1.9" fill="#b4763a" opacity="0.3"/><circle cx="248.6" cy="166.3" r="1.15" fill="#b4763a" opacity="0.75"/>
<circle cx="267.9" cy="166.3" r="1.9" fill="#b4763a" opacity="0.3"/><circle cx="267.9" cy="166.3" r="1.15" fill="#b4763a" opacity="0.75"/>
<circle cx="264.6" cy="169" r="1.9" fill="#40190f" opacity="0.3"/><circle cx="264.6" cy="169" r="1.15" fill="#40190f" opacity="0.95"/>
<circle cx="257.3" cy="167" r="1.9" fill="#a3aa4a" opacity="0.3"/><circle cx="257.3" cy="167" r="1.15" fill="#a3aa4a" opacity="0.75"/>
<circle cx="242.6" cy="176.9" r="1.9" fill="#70301c" opacity="0.3"/><circle cx="242.6" cy="176.9" r="1.15" fill="#70301c" opacity="0.95"/>
<circle cx="234.6" cy="179.6" r="1.9" fill="#40190f" opacity="0.3"/><circle cx="234.6" cy="179.6" r="1.15" fill="#40190f" opacity="0.95"/>
<circle cx="253.9" cy="180.9" r="1.9" fill="#a3aa4a" opacity="0.3"/><circle cx="253.9" cy="180.9" r="1.15" fill="#a3aa4a" opacity="0.75"/>
<circle cx="262.6" cy="178.7" r="1.9" fill="#7c4c2a" opacity="0.3"/><circle cx="262.6" cy="178.7" r="1.15" fill="#7c4c2a" opacity="0.75"/>
<circle cx="267.2" cy="181.6" r="1.9" fill="#b4763a" opacity="0.3"/><circle cx="267.2" cy="181.6" r="1.15" fill="#b4763a" opacity="0.75"/>
<circle cx="244.6" cy="189.6" r="1.9" fill="#40190f" opacity="0.3"/><circle cx="244.6" cy="189.6" r="1.15" fill="#40190f" opacity="0.95"/>
</g>
<rect x="58.1" y="62.0" width="50.4" height="50.0" fill="none" stroke="#fb2a36" stroke-width="1.4"/>
<rect x="58.1" y="148.0" width="50.49999999999999" height="50.900000000000006" fill="none" stroke="#fb2a36" stroke-width="1.4"/>
<rect x="114.7" y="147.9" width="50.3" height="51.0" fill="none" stroke="#fb2a36" stroke-width="1.4"/>
<rect x="170.8" y="147.9" width="51.0" height="50.79999999999998" fill="none" stroke="#fb2a36" stroke-width="1.4"/>
<text transform="translate(83.5 121.7) scale(0.9 1.08)" font-size="6.6" font-weight="bold" text-anchor="middle" fill="#161616" stroke="#161616" stroke-width="0.18">RHF6</text>
<text transform="translate(139.6 121.8) scale(0.9 1.08)" font-size="6.6" font-weight="bold" text-anchor="middle" fill="#161616" stroke="#161616" stroke-width="0.18">RHFS10</text>
<text transform="translate(196 121.89999999999999) scale(0.9 1.08)" font-size="6.6" font-weight="bold" text-anchor="middle" fill="#161616" stroke="#161616" stroke-width="0.18">LS132</text>
<text transform="translate(251.6 122.7) scale(0.9 1.08)" font-size="6.6" font-weight="bold" text-anchor="middle" fill="#161616" stroke="#161616" stroke-width="0.18">AGS172</text>
<text transform="translate(37 169.0) scale(0.9 1.08)" font-size="6.6" font-weight="bold" text-anchor="middle" fill="#161616" stroke="#161616" stroke-width="0.18">Control</text>
<text transform="translate(82.8 205.9) scale(0.9 1.08)" font-size="6.6" font-weight="bold" text-anchor="middle" fill="#161616" stroke="#161616" stroke-width="0.18">LMG9814</text>
<text transform="translate(141.4 206.10000000000002) scale(0.9 1.08)" font-size="6.6" font-weight="bold" text-anchor="middle" fill="#161616" stroke="#161616" stroke-width="0.18">AGS84</text>
<text transform="translate(196.6 205.10000000000002) scale(0.9 1.08)" font-size="6.6" font-weight="bold" text-anchor="middle" fill="#161616" stroke="#161616" stroke-width="0.18">AGS108</text>
<text transform="translate(251.7 205.3) scale(0.9 1.08)" font-size="6.6" font-weight="bold" text-anchor="middle" fill="#161616" stroke="#161616" stroke-width="0.18">AGS54</text>
<text transform="translate(290.6 23.3) scale(1 1)" font-size="20.6" fill="#111">B</text>
<g stroke="#606060" stroke-width="0.9" fill="none">
<path d="M313.1 50.00000000000001 V202.0 H459.9"/>
<path d="M309.1 202.0 H313.1"/>
<path d="M309.1 164.1 H313.1"/>
<path d="M309.1 126.2 H313.1"/>
<path d="M309.1 88.3 H313.1"/>
<path d="M309.1 50.400000000000006 H313.1"/>
<path d="M313.1 202.0 V206.0"/>
<path d="M349.70000000000005 202.0 V206.0"/>
<path d="M386.3 202.0 V206.0"/>
<path d="M422.90000000000003 202.0 V206.0"/>
<path d="M459.5 202.0 V206.0"/>
</g>
<text transform="translate(307.90000000000003 204.5) scale(1.08 1)" font-size="7.6" text-anchor="end" fill="#222">0</text>
<text transform="translate(307.90000000000003 166.6) scale(1.08 1)" font-size="7.6" text-anchor="end" fill="#222">20</text>
<text transform="translate(307.90000000000003 128.7) scale(1.08 1)" font-size="7.6" text-anchor="end" fill="#222">40</text>
<text transform="translate(307.90000000000003 90.8) scale(1.08 1)" font-size="7.6" text-anchor="end" fill="#222">60</text>
<text transform="translate(307.90000000000003 52.900000000000006) scale(1.08 1)" font-size="7.6" text-anchor="end" fill="#222">80</text>
<text transform="translate(313.1 214.3) scale(1.08 1)" font-size="7.6" text-anchor="middle" fill="#222">0</text>
<text transform="translate(349.70000000000005 214.3) scale(1.08 1)" font-size="7.6" text-anchor="middle" fill="#222">2</text>
<text transform="translate(386.3 214.3) scale(1.08 1)" font-size="7.6" text-anchor="middle" fill="#222">4</text>
<text transform="translate(422.90000000000003 214.3) scale(1.08 1)" font-size="7.6" text-anchor="middle" fill="#222">6</text>
<text transform="translate(459.5 214.3) scale(1.08 1)" font-size="7.6" text-anchor="middle" fill="#222">8</text>
<text x="386.3" y="225.4" font-size="8" text-anchor="middle" fill="#222">days</text>
<text transform="translate(297.5 123.6) rotate(-90)" font-size="7.9" font-weight="bold" text-anchor="middle" fill="#222">Germination rate (%)</text>
<path d="M368.0 177.4 V188.7 M365.2 177.4 h5.6 M365.2 188.7 h5.6" stroke="#1a1a1a" stroke-width="1" fill="none"/>
<path d="M386.3 152.7 V167.9 M383.5 152.7 h5.6 M383.5 167.9 h5.6" stroke="#1a1a1a" stroke-width="1" fill="none"/>
<path d="M404.6 135.7 V150.8 M401.8 135.7 h5.6 M401.8 150.8 h5.6" stroke="#1a1a1a" stroke-width="1" fill="none"/>
<path d="M422.9 132.8 V151.8 M420.1 132.8 h5.6 M420.1 151.8 h5.6" stroke="#1a1a1a" stroke-width="1" fill="none"/>
<polyline points="331.4,202.0 349.7,202.0 368.0,183.1 386.3,160.3 404.6,143.3 422.9,142.3" fill="none" stroke="#35a088" stroke-width="1.05"/>
<path d="M331.4 205.7 L334.9 199.4 L327.9 199.4 Z" fill="#69c5b1" stroke="#35a088" stroke-width="0.75"/>
<path d="M349.7 205.7 L353.2 199.4 L346.2 199.4 Z" fill="#69c5b1" stroke="#35a088" stroke-width="0.75"/>
<path d="M368.0 186.7 L371.5 180.5 L364.5 180.5 Z" fill="#69c5b1" stroke="#35a088" stroke-width="0.75"/>
<path d="M386.3 164.0 L389.8 157.8 L382.8 157.8 Z" fill="#69c5b1" stroke="#35a088" stroke-width="0.75"/>
<path d="M404.6 146.9 L408.1 140.7 L401.1 140.7 Z" fill="#69c5b1" stroke="#35a088" stroke-width="0.75"/>
<path d="M422.9 146.0 L426.4 139.7 L419.4 139.7 Z" fill="#69c5b1" stroke="#35a088" stroke-width="0.75"/>
<path d="M349.7 174.5 V189.7 M346.9 174.5 h5.6 M346.9 189.7 h5.6" stroke="#1a1a1a" stroke-width="1" fill="none"/>
<path d="M368.0 160.3 V175.5 M365.2 160.3 h5.6 M365.2 175.5 h5.6" stroke="#1a1a1a" stroke-width="1" fill="none"/>
<path d="M386.3 141.4 V160.3 M383.5 141.4 h5.6 M383.5 160.3 h5.6" stroke="#1a1a1a" stroke-width="1" fill="none"/>
<path d="M404.6 111.0 V130.0 M401.8 111.0 h5.6 M401.8 130.0 h5.6" stroke="#1a1a1a" stroke-width="1" fill="none"/>
<path d="M422.9 97.8 V120.5 M420.1 97.8 h5.6 M420.1 120.5 h5.6" stroke="#1a1a1a" stroke-width="1" fill="none"/>
<polyline points="331.4,202.0 349.7,182.1 368.0,167.9 386.3,150.8 404.6,120.5 422.9,109.1" fill="none" stroke="#71832a" stroke-width="1.05"/>
<path d="M331.4 198.3 L334.9 204.6 L327.9 204.6 Z" fill="#aeb56a" stroke="#71832a" stroke-width="0.75"/>
<path d="M349.7 178.4 L353.2 184.7 L346.2 184.7 Z" fill="#aeb56a" stroke="#71832a" stroke-width="0.75"/>
<path d="M368.0 164.2 L371.5 170.4 L364.5 170.4 Z" fill="#aeb56a" stroke="#71832a" stroke-width="0.75"/>
<path d="M386.3 147.2 L389.8 153.4 L382.8 153.4 Z" fill="#aeb56a" stroke="#71832a" stroke-width="0.75"/>
<path d="M404.6 116.8 L408.1 123.1 L401.1 123.1 Z" fill="#aeb56a" stroke="#71832a" stroke-width="0.75"/>
<path d="M422.9 105.5 L426.4 111.7 L419.4 111.7 Z" fill="#aeb56a" stroke="#71832a" stroke-width="0.75"/>
<path d="M349.7 172.4 V193.7 M346.9 172.4 h5.6 M346.9 193.7 h5.6" stroke="#1a1a1a" stroke-width="1" fill="none"/>
<path d="M368.0 146.3 V166.8 M365.2 146.3 h5.6 M365.2 166.8 h5.6" stroke="#1a1a1a" stroke-width="1" fill="none"/>
<path d="M386.3 120.5 V143.3 M383.5 120.5 h5.6 M383.5 143.3 h5.6" stroke="#1a1a1a" stroke-width="1" fill="none"/>
<path d="M404.6 108.6 V131.3 M401.8 108.6 h5.6 M401.8 131.3 h5.6" stroke="#1a1a1a" stroke-width="1" fill="none"/>
<path d="M422.9 83.6 V117.7 M420.1 83.6 h5.6 M420.1 117.7 h5.6" stroke="#1a1a1a" stroke-width="1" fill="none"/>
<polyline points="331.4,202.0 349.7,183.1 368.0,156.5 386.3,131.9 404.6,119.9 422.9,100.6" fill="none" stroke="#b5447a" stroke-width="1.05"/>
<rect x="328.2" y="198.8" width="6.4" height="6.4" fill="#d87b9d" stroke="#b5447a" stroke-width="0.75"/>
<rect x="346.5" y="179.9" width="6.4" height="6.4" fill="#d87b9d" stroke="#b5447a" stroke-width="0.75"/>
<rect x="364.8" y="153.3" width="6.4" height="6.4" fill="#d87b9d" stroke="#b5447a" stroke-width="0.75"/>
<rect x="383.1" y="128.7" width="6.4" height="6.4" fill="#d87b9d" stroke="#b5447a" stroke-width="0.75"/>
<rect x="401.4" y="116.7" width="6.4" height="6.4" fill="#d87b9d" stroke="#b5447a" stroke-width="0.75"/>
<rect x="419.7" y="97.4" width="6.4" height="6.4" fill="#d87b9d" stroke="#b5447a" stroke-width="0.75"/>
<path d="M368.0 153.5 V164.9 M365.2 153.5 h5.6 M365.2 164.9 h5.6" stroke="#1a1a1a" stroke-width="1" fill="none"/>
<path d="M386.3 135.3 V150.5 M383.5 135.3 h5.6 M383.5 150.5 h5.6" stroke="#1a1a1a" stroke-width="1" fill="none"/>
<path d="M404.6 110.7 V133.4 M401.8 110.7 h5.6 M401.8 133.4 h5.6" stroke="#1a1a1a" stroke-width="1" fill="none"/>
<path d="M422.9 105.5 V120.7 M420.1 105.5 h5.6 M420.1 120.7 h5.6" stroke="#1a1a1a" stroke-width="1" fill="none"/>
<polyline points="331.4,202.0 349.7,202.0 368.0,159.2 386.3,142.9 404.6,122.0 422.9,113.1" fill="none" stroke="#d0671f" stroke-width="1.05"/>
<circle cx="331.4" cy="202.0" r="3.2" fill="#fb9347" stroke="#d0671f" stroke-width="0.75"/>
<circle cx="349.7" cy="202.0" r="3.2" fill="#fb9347" stroke="#d0671f" stroke-width="0.75"/>
<circle cx="368.0" cy="159.2" r="3.2" fill="#fb9347" stroke="#d0671f" stroke-width="0.75"/>
<circle cx="386.3" cy="142.9" r="3.2" fill="#fb9347" stroke="#d0671f" stroke-width="0.75"/>
<circle cx="404.6" cy="122.0" r="3.2" fill="#fb9347" stroke="#d0671f" stroke-width="0.75"/>
<circle cx="422.9" cy="113.1" r="3.2" fill="#fb9347" stroke="#d0671f" stroke-width="0.75"/>
<path d="M349.7 196.3 V200.1 M346.9 196.3 h5.6 M346.9 200.1 h5.6" stroke="#1a1a1a" stroke-width="1" fill="none"/>
<path d="M368.0 182.1 V189.7 M365.2 182.1 h5.6 M365.2 189.7 h5.6" stroke="#1a1a1a" stroke-width="1" fill="none"/>
<path d="M386.3 165.0 V180.2 M383.5 165.0 h5.6 M383.5 180.2 h5.6" stroke="#1a1a1a" stroke-width="1" fill="none"/>
<path d="M404.6 141.4 V179.3 M401.8 141.4 h5.6 M401.8 179.3 h5.6" stroke="#1a1a1a" stroke-width="1" fill="none"/>
<path d="M422.9 162.2 V166.0 M420.1 162.2 h5.6 M420.1 166.0 h5.6" stroke="#1a1a1a" stroke-width="1" fill="none"/>
<polyline points="331.4,202.0 349.7,198.2 368.0,185.9 386.3,172.6 404.6,160.3 422.9,164.1" fill="none" stroke="#34588c" stroke-width="1.05"/>
<path d="M331.4 198.8 L334.6 202.0 L331.4 205.2 L328.2 202.0 Z" fill="#4169a2" stroke="#34588c" stroke-width="0.75"/>
<path d="M349.7 195.0 L352.9 198.2 L349.7 201.4 L346.5 198.2 Z" fill="#4169a2" stroke="#34588c" stroke-width="0.75"/>
<path d="M368.0 182.7 L371.2 185.9 L368.0 189.1 L364.8 185.9 Z" fill="#4169a2" stroke="#34588c" stroke-width="0.75"/>
<path d="M386.3 169.4 L389.5 172.6 L386.3 175.8 L383.1 172.6 Z" fill="#4169a2" stroke="#34588c" stroke-width="0.75"/>
<path d="M404.6 157.1 L407.8 160.3 L404.6 163.5 L401.4 160.3 Z" fill="#4169a2" stroke="#34588c" stroke-width="0.75"/>
<path d="M422.9 160.9 L426.1 164.1 L422.9 167.3 L419.7 164.1 Z" fill="#4169a2" stroke="#34588c" stroke-width="0.75"/>
<path d="M368.0 182.3 V192.1 M365.2 182.3 h5.6 M365.2 192.1 h5.6" stroke="#1a1a1a" stroke-width="1" fill="none"/>
<path d="M386.3 155.6 V170.7 M383.5 155.6 h5.6 M383.5 170.7 h5.6" stroke="#1a1a1a" stroke-width="1" fill="none"/>
<path d="M404.6 131.9 V150.8 M401.8 131.9 h5.6 M401.8 150.8 h5.6" stroke="#1a1a1a" stroke-width="1" fill="none"/>
<path d="M422.9 111.0 V130.0 M420.1 111.0 h5.6 M420.1 130.0 h5.6" stroke="#1a1a1a" stroke-width="1" fill="none"/>
<polyline points="331.4,202.0 349.7,202.0 368.0,187.2 386.3,163.2 404.6,141.4 422.9,120.5" fill="none" stroke="#1f6a54" stroke-width="1.05"/>
<path d="M331.4 205.7 L334.9 199.4 L327.9 199.4 Z" fill="#2b7f66" stroke="#1f6a54" stroke-width="0.75"/>
<path d="M349.7 205.7 L353.2 199.4 L346.2 199.4 Z" fill="#2b7f66" stroke="#1f6a54" stroke-width="0.75"/>
<path d="M368.0 190.9 L371.5 184.7 L364.5 184.7 Z" fill="#2b7f66" stroke="#1f6a54" stroke-width="0.75"/>
<path d="M386.3 166.8 L389.8 160.6 L382.8 160.6 Z" fill="#2b7f66" stroke="#1f6a54" stroke-width="0.75"/>
<path d="M404.6 145.0 L408.1 138.8 L401.1 138.8 Z" fill="#2b7f66" stroke="#1f6a54" stroke-width="0.75"/>
<path d="M422.9 124.2 L426.4 118.0 L419.4 118.0 Z" fill="#2b7f66" stroke="#1f6a54" stroke-width="0.75"/>
<path d="M349.7 173.6 V188.7 M346.9 173.6 h5.6 M346.9 188.7 h5.6" stroke="#1a1a1a" stroke-width="1" fill="none"/>
<path d="M368.0 158.4 V169.8 M365.2 158.4 h5.6 M365.2 169.8 h5.6" stroke="#1a1a1a" stroke-width="1" fill="none"/>
<path d="M386.3 148.9 V164.1 M383.5 148.9 h5.6 M383.5 164.1 h5.6" stroke="#1a1a1a" stroke-width="1" fill="none"/>
<path d="M404.6 142.9 V158.0 M401.8 142.9 h5.6 M401.8 158.0 h5.6" stroke="#1a1a1a" stroke-width="1" fill="none"/>
<path d="M422.9 142.9 V158.0 M420.1 142.9 h5.6 M420.1 158.0 h5.6" stroke="#1a1a1a" stroke-width="1" fill="none"/>
<polyline points="331.4,202.0 349.7,181.2 368.0,164.1 386.3,156.5 404.6,150.5 422.9,150.5" fill="none" stroke="#4a6a20" stroke-width="1.05"/>
<path d="M331.4 198.3 L334.9 204.6 L327.9 204.6 Z" fill="#5b7b2a" stroke="#4a6a20" stroke-width="0.75"/>
<path d="M349.7 177.5 L353.2 183.7 L346.2 183.7 Z" fill="#5b7b2a" stroke="#4a6a20" stroke-width="0.75"/>
<path d="M368.0 160.4 L371.5 166.7 L364.5 166.7 Z" fill="#5b7b2a" stroke="#4a6a20" stroke-width="0.75"/>
<path d="M386.3 152.8 L389.8 159.1 L382.8 159.1 Z" fill="#5b7b2a" stroke="#4a6a20" stroke-width="0.75"/>
<path d="M404.6 146.8 L408.1 153.0 L401.1 153.0 Z" fill="#5b7b2a" stroke="#4a6a20" stroke-width="0.75"/>
<path d="M422.9 146.8 L426.4 153.0 L419.4 153.0 Z" fill="#5b7b2a" stroke="#4a6a20" stroke-width="0.75"/>
<path d="M368.0 147.0 V162.2 M365.2 147.0 h5.6 M365.2 162.2 h5.6" stroke="#1a1a1a" stroke-width="1" fill="none"/>
<path d="M386.3 119.6 V138.5 M383.5 119.6 h5.6 M383.5 138.5 h5.6" stroke="#1a1a1a" stroke-width="1" fill="none"/>
<path d="M404.6 88.9 V107.8 M401.8 88.9 h5.6 M401.8 107.8 h5.6" stroke="#1a1a1a" stroke-width="1" fill="none"/>
<path d="M422.9 68.4 V113.9 M420.1 68.4 h5.6 M420.1 113.9 h5.6" stroke="#1a1a1a" stroke-width="1" fill="none"/>
<polyline points="331.4,202.0 349.7,202.0 368.0,154.6 386.3,129.0 404.6,98.3 422.9,91.1" fill="none" stroke="#8a2a52" stroke-width="1.05"/>
<rect x="328.2" y="198.8" width="6.4" height="6.4" fill="#9d345f" stroke="#8a2a52" stroke-width="0.75"/>
<rect x="346.5" y="198.8" width="6.4" height="6.4" fill="#9d345f" stroke="#8a2a52" stroke-width="0.75"/>
<rect x="364.8" y="151.4" width="6.4" height="6.4" fill="#9d345f" stroke="#8a2a52" stroke-width="0.75"/>
<rect x="383.1" y="125.8" width="6.4" height="6.4" fill="#9d345f" stroke="#8a2a52" stroke-width="0.75"/>
<rect x="401.4" y="95.1" width="6.4" height="6.4" fill="#9d345f" stroke="#8a2a52" stroke-width="0.75"/>
<rect x="419.7" y="87.9" width="6.4" height="6.4" fill="#9d345f" stroke="#8a2a52" stroke-width="0.75"/>
<path d="M349.7 183.1 V194.4 M346.9 183.1 h5.6 M346.9 194.4 h5.6" stroke="#1a1a1a" stroke-width="1" fill="none"/>
<path d="M368.0 164.5 V175.8 M365.2 164.5 h5.6 M365.2 175.8 h5.6" stroke="#1a1a1a" stroke-width="1" fill="none"/>
<path d="M386.3 139.1 V154.2 M383.5 139.1 h5.6 M383.5 154.2 h5.6" stroke="#1a1a1a" stroke-width="1" fill="none"/>
<path d="M404.6 126.6 V137.9 M401.8 126.6 h5.6 M401.8 137.9 h5.6" stroke="#1a1a1a" stroke-width="1" fill="none"/>
<path d="M422.9 113.9 V125.3 M420.1 113.9 h5.6 M420.1 125.3 h5.6" stroke="#1a1a1a" stroke-width="1" fill="none"/>
<polyline points="331.4,202.0 349.7,188.7 368.0,170.2 386.3,146.7 404.6,132.3 422.9,119.6" fill="none" stroke="#222" stroke-width="1.05"/>
<circle cx="331.4" cy="202.0" r="3.2" fill="#343434" stroke="#222" stroke-width="0.75"/>
<circle cx="349.7" cy="188.7" r="3.2" fill="#343434" stroke="#222" stroke-width="0.75"/>
<circle cx="368.0" cy="170.2" r="3.2" fill="#343434" stroke="#222" stroke-width="0.75"/>
<circle cx="386.3" cy="146.7" r="3.2" fill="#343434" stroke="#222" stroke-width="0.75"/>
<circle cx="404.6" cy="132.3" r="3.2" fill="#343434" stroke="#222" stroke-width="0.75"/>
<circle cx="422.9" cy="119.6" r="3.2" fill="#343434" stroke="#222" stroke-width="0.75"/>
<path d="M464.9 27.6 h8.2" stroke="#222" stroke-width="0.9"/>
<circle cx="469.0" cy="27.6" r="2.9" fill="#343434" stroke="#222" stroke-width="0.75"/>
<text transform="translate(478 30.1) scale(0.88 1)" font-size="7.6" fill="#111" stroke="#111" stroke-width="0.1">C-</text>
<path d="M464.9 38.1 h8.2" stroke="#8a2a52" stroke-width="0.9"/>
<rect x="466.1" y="35.2" width="5.8" height="5.8" fill="#9d345f" stroke="#8a2a52" stroke-width="0.75"/>
<text transform="translate(478 40.6) scale(0.88 1)" font-size="7.6" fill="#111" stroke="#111" stroke-width="0.1">RHF6</text>
<path d="M464.9 48.5 h8.2" stroke="#4a6a20" stroke-width="0.9"/>
<path d="M469.0 45.2 L472.2 50.9 L465.8 50.9 Z" fill="#5b7b2a" stroke="#4a6a20" stroke-width="0.75"/>
<text transform="translate(478 51.0) scale(0.88 1)" font-size="7.6" fill="#111" stroke="#111" stroke-width="0.1">RHFS10</text>
<path d="M464.9 59.0 h8.2" stroke="#1f6a54" stroke-width="0.9"/>
<path d="M469.0 62.3 L472.2 56.7 L465.8 56.7 Z" fill="#2b7f66" stroke="#1f6a54" stroke-width="0.75"/>
<text transform="translate(478 61.5) scale(0.88 1)" font-size="7.6" fill="#111" stroke="#111" stroke-width="0.1">LS132</text>
<path d="M464.9 69.5 h8.2" stroke="#34588c" stroke-width="0.9"/>
<path d="M469.0 66.6 L471.9 69.5 L469.0 72.4 L466.1 69.5 Z" fill="#4169a2" stroke="#34588c" stroke-width="0.75"/>
<text transform="translate(478 72.0) scale(0.88 1)" font-size="7.6" fill="#111" stroke="#111" stroke-width="0.1">AGS172</text>
<path d="M464.9 80.0 h8.2" stroke="#d0671f" stroke-width="0.9"/>
<circle cx="469.0" cy="80.0" r="2.9" fill="#fb9347" stroke="#d0671f" stroke-width="0.75"/>
<text transform="translate(478 82.5) scale(0.88 1)" font-size="7.6" fill="#111" stroke="#111" stroke-width="0.1">LMG9814</text>
<path d="M464.9 90.4 h8.2" stroke="#b5447a" stroke-width="0.9"/>
<rect x="466.1" y="87.5" width="5.8" height="5.8" fill="#d87b9d" stroke="#b5447a" stroke-width="0.75"/>
<text transform="translate(478 92.9) scale(0.88 1)" font-size="7.6" fill="#111" stroke="#111" stroke-width="0.1">AGS84</text>
<path d="M464.9 100.9 h8.2" stroke="#71832a" stroke-width="0.9"/>
<path d="M469.0 97.6 L472.2 103.2 L465.8 103.2 Z" fill="#aeb56a" stroke="#71832a" stroke-width="0.75"/>
<text transform="translate(478 103.4) scale(0.88 1)" font-size="7.6" fill="#111" stroke="#111" stroke-width="0.1">AGS108</text>
<path d="M464.9 111.4 h8.2" stroke="#35a088" stroke-width="0.9"/>
<path d="M469.0 114.7 L472.2 109.0 L465.8 109.0 Z" fill="#69c5b1" stroke="#35a088" stroke-width="0.75"/>
<text transform="translate(478 113.9) scale(0.88 1)" font-size="7.6" fill="#111" stroke="#111" stroke-width="0.1">AGS54</text>
<text transform="translate(14.5 244.5) scale(1 1)" font-size="20.6" fill="#111">C</text>
<g stroke="#3a3a3a" stroke-width="1" fill="none">
<path d="M78.0 264.52 V388.2 M74.2 388.2 H261.7"/>
<path d="M74.2 388.2 H78.0"/>
<path d="M74.2 347.14 H78.0"/>
<path d="M74.2 306.08 H78.0"/>
<path d="M74.2 265.02 H78.0"/>
</g>
<text transform="translate(72.60000000000001 390.7) scale(1.12 1)" font-size="7.6" text-anchor="end" fill="#222">0</text>
<text transform="translate(72.60000000000001 349.64) scale(1.12 1)" font-size="7.6" text-anchor="end" fill="#222">2</text>
<text transform="translate(72.60000000000001 308.58) scale(1.12 1)" font-size="7.6" text-anchor="end" fill="#222">4</text>
<text transform="translate(72.60000000000001 267.52) scale(1.12 1)" font-size="7.6" text-anchor="end" fill="#222">6</text>
<path d="M93.2 312.6 V291.5 M89.4 291.5 h7.6" stroke="#3a3a3a" stroke-width="0.9" fill="none"/>
<rect x="85.7" y="312.6" width="15.0" height="75.6" fill="#343434"/>
<path d="M93.2 388.2 v4.4" stroke="#3a3a3a" stroke-width="1"/>
<text x="93.2" y="288.1" font-size="10" text-anchor="middle" fill="#222">a</text>
<text transform="translate(95.6 400.8) rotate(-45) scale(0.94 1.05)" font-size="7.9" font-weight="bold" text-anchor="end" fill="#222">C-</text>
<path d="M112.2 302.8 V272.2 M108.4 272.2 h7.6" stroke="#3a3a3a" stroke-width="0.9" fill="none"/>
<rect x="104.7" y="302.8" width="15.0" height="85.4" fill="#9d345f"/>
<path d="M112.2 388.2 v4.4" stroke="#3a3a3a" stroke-width="1"/>
<text x="112.2" y="268.8" font-size="10" text-anchor="middle" fill="#222">a</text>
<text transform="translate(114.6 400.8) rotate(-45) scale(0.94 1.05)" font-size="7.9" font-weight="bold" text-anchor="end" fill="#222">RHF6</text>
<path d="M131.2 359.3 V352.9 M127.4 352.9 h7.6" stroke="#3a3a3a" stroke-width="0.9" fill="none"/>
<rect x="123.7" y="359.3" width="15.0" height="28.9" fill="#5b7b2a"/>
<path d="M131.2 388.2 v4.4" stroke="#3a3a3a" stroke-width="1"/>
<text x="131.2" y="349.5" font-size="10" text-anchor="middle" fill="#222">b</text>
<text transform="translate(133.6 400.8) rotate(-45) scale(0.94 1.05)" font-size="7.9" font-weight="bold" text-anchor="end" fill="#222">RHFS10</text>
<path d="M150.2 338.5 V305.9 M146.4 305.9 h7.6" stroke="#3a3a3a" stroke-width="0.9" fill="none"/>
<rect x="142.7" y="338.5" width="15.0" height="49.7" fill="#2b7f66"/>
<path d="M150.2 388.2 v4.4" stroke="#3a3a3a" stroke-width="1"/>
<text x="150.2" y="302.5" font-size="10" text-anchor="middle" fill="#222">a</text>
<text transform="translate(152.6 400.8) rotate(-45) scale(0.94 1.05)" font-size="7.9" font-weight="bold" text-anchor="end" fill="#222">LS132</text>
<path d="M169.3 329.1 V318.0 M165.5 318.0 h7.6" stroke="#3a3a3a" stroke-width="0.9" fill="none"/>
<rect x="161.8" y="329.1" width="15.0" height="59.1" fill="#4169a2"/>
<path d="M169.3 388.2 v4.4" stroke="#3a3a3a" stroke-width="1"/>
<text x="169.3" y="314.6" font-size="10" text-anchor="middle" fill="#222">a</text>
<text transform="translate(171.7 400.8) rotate(-45) scale(0.94 1.05)" font-size="7.9" font-weight="bold" text-anchor="end" fill="#222">AGS172</text>
<path d="M188.3 319.0 V292.7 M184.5 292.7 h7.6" stroke="#3a3a3a" stroke-width="0.9" fill="none"/>
<rect x="180.8" y="319.0" width="15.0" height="69.2" fill="#fb9347"/>
<path d="M188.3 388.2 v4.4" stroke="#3a3a3a" stroke-width="1"/>
<text x="188.3" y="289.3" font-size="10" text-anchor="middle" fill="#222">a</text>
<text transform="translate(190.7 400.8) rotate(-45) scale(0.94 1.05)" font-size="7.9" font-weight="bold" text-anchor="end" fill="#222">LMG9814</text>
<path d="M207.3 308.1 V282.1 M203.5 282.1 h7.6" stroke="#3a3a3a" stroke-width="0.9" fill="none"/>
<rect x="199.8" y="308.1" width="15.0" height="80.1" fill="#d87b9d"/>
<path d="M207.3 388.2 v4.4" stroke="#3a3a3a" stroke-width="1"/>
<text x="207.3" y="278.7" font-size="10" text-anchor="middle" fill="#222">a</text>
<text transform="translate(209.7 400.8) rotate(-45) scale(0.94 1.05)" font-size="7.9" font-weight="bold" text-anchor="end" fill="#222">AGS84</text>
<path d="M226.4 321.7 V294.8 M222.6 294.8 h7.6" stroke="#3a3a3a" stroke-width="0.9" fill="none"/>
<rect x="218.9" y="321.7" width="15.0" height="66.5" fill="#aeb56a"/>
<path d="M226.4 388.2 v4.4" stroke="#3a3a3a" stroke-width="1"/>
<text x="226.4" y="291.4" font-size="10" text-anchor="middle" fill="#222">a</text>
<text transform="translate(228.8 400.8) rotate(-45) scale(0.94 1.05)" font-size="7.9" font-weight="bold" text-anchor="end" fill="#222">AGS108</text>
<path d="M245.4 348.4 V334.2 M241.6 334.2 h7.6" stroke="#3a3a3a" stroke-width="0.9" fill="none"/>
<rect x="237.9" y="348.4" width="15.0" height="39.8" fill="#69c5b1"/>
<path d="M245.4 388.2 v4.4" stroke="#3a3a3a" stroke-width="1"/>
<text x="245.4" y="330.8" font-size="10" text-anchor="middle" fill="#222">c</text>
<text transform="translate(247.8 400.8) rotate(-45) scale(0.94 1.05)" font-size="7.9" font-weight="bold" text-anchor="end" fill="#222">AGS54</text>
<path d="M88.6 267.8 V259.8 H256.6 V267.8" stroke="#3a3a3a" stroke-width="1" fill="none"/>
<text x="173.3" y="258.2" font-size="12" font-weight="bold" text-anchor="middle" fill="#222" stroke="#222" stroke-width="0.35" letter-spacing="-0.55">***</text>
<text transform="translate(62.4 324.3) rotate(-90) scale(0.955 1)" font-size="12.2" text-anchor="middle" fill="#222">Primary roots length (cm)</text>
<text transform="translate(290.7 244.4) scale(1.1 1)" font-size="20.6" fill="#111">D</text>
<g stroke="#3a3a3a" stroke-width="1" fill="none">
<path d="M316.4 258.55 V390.8 M312.2 390.8 H531.2"/>
<path d="M312.2 390.8 H316.4"/>
<path d="M312.2 364.45 H316.4"/>
<path d="M312.2 338.1 H316.4"/>
<path d="M312.2 311.75 H316.4"/>
<path d="M312.2 285.40000000000003 H316.4"/>
<path d="M312.2 259.05 H316.4"/>
</g>
<text transform="translate(310.4 393.6) scale(1.1 1)" font-size="8.5" text-anchor="end" fill="#222">0</text>
<text transform="translate(310.4 367.25) scale(1.1 1)" font-size="8.5" text-anchor="end" fill="#222">20</text>
<text transform="translate(310.4 340.90000000000003) scale(1.1 1)" font-size="8.5" text-anchor="end" fill="#222">40</text>
<text transform="translate(310.4 314.55) scale(1.1 1)" font-size="8.5" text-anchor="end" fill="#222">60</text>
<text transform="translate(310.4 288.20000000000005) scale(1.1 1)" font-size="8.5" text-anchor="end" fill="#222">80</text>
<text transform="translate(310.4 261.85) scale(1.1 1)" font-size="8.5" text-anchor="end" fill="#222">100</text>
<path d="M334.7 333.9 V327.4 M330.4 327.4 h8.6" stroke="#3a3a3a" stroke-width="0.9" fill="none"/>
<rect x="325.9" y="333.9" width="17.6" height="56.9" fill="#343434"/>
<path d="M334.7 390.8 v4.4" stroke="#3a3a3a" stroke-width="1"/>
<text x="334.7" y="323.6" font-size="11" text-anchor="middle" fill="#222">a</text>
<text transform="translate(337.1 403.4) rotate(-45) scale(0.94 1.05)" font-size="8.2" font-weight="bold" text-anchor="end" fill="#222">C-</text>
<path d="M357.0 294.0 V281.3 M352.7 281.3 h8.6" stroke="#3a3a3a" stroke-width="0.9" fill="none"/>
<rect x="348.2" y="294.0" width="17.6" height="96.8" fill="#9d345f"/>
<path d="M357.0 390.8 v4.4" stroke="#3a3a3a" stroke-width="1"/>
<text x="357.0" y="277.5" font-size="11" text-anchor="middle" fill="#222">b</text>
<text transform="translate(359.4 403.4) rotate(-45) scale(0.94 1.05)" font-size="8.2" font-weight="bold" text-anchor="end" fill="#222">RHF6</text>
<path d="M379.3 354.7 V343.6 M375.0 343.6 h8.6" stroke="#3a3a3a" stroke-width="0.9" fill="none"/>
<rect x="370.5" y="354.7" width="17.6" height="36.1" fill="#5b7b2a"/>
<path d="M379.3 390.8 v4.4" stroke="#3a3a3a" stroke-width="1"/>
<text x="379.3" y="339.8" font-size="11" text-anchor="middle" fill="#222">a</text>
<text transform="translate(381.7 403.4) rotate(-45) scale(0.94 1.05)" font-size="8.2" font-weight="bold" text-anchor="end" fill="#222">RHFS10</text>
<path d="M401.5 333.9 V327.4 M397.2 327.4 h8.6" stroke="#3a3a3a" stroke-width="0.9" fill="none"/>
<rect x="392.7" y="333.9" width="17.6" height="56.9" fill="#2b7f66"/>
<path d="M401.5 390.8 v4.4" stroke="#3a3a3a" stroke-width="1"/>
<text x="401.5" y="323.6" font-size="11" text-anchor="middle" fill="#222">a</text>
<text transform="translate(403.9 403.4) rotate(-45) scale(0.94 1.05)" font-size="8.2" font-weight="bold" text-anchor="end" fill="#222">LS132</text>
<rect x="415.0" y="364.7" width="17.6" height="26.1" fill="#4169a2"/>
<path d="M423.8 390.8 v4.4" stroke="#3a3a3a" stroke-width="1"/>
<text x="423.8" y="360.9" font-size="11" text-anchor="middle" fill="#222">c</text>
<text transform="translate(426.2 403.4) rotate(-45) scale(0.94 1.05)" font-size="8.2" font-weight="bold" text-anchor="end" fill="#222">AGS172</text>
<rect x="437.3" y="329.4" width="17.6" height="61.4" fill="#fb9347"/>
<path d="M446.1 390.8 v4.4" stroke="#3a3a3a" stroke-width="1"/>
<text x="446.1" y="325.6" font-size="11" text-anchor="middle" fill="#222">a</text>
<text transform="translate(448.5 403.4) rotate(-45) scale(0.94 1.05)" font-size="8.2" font-weight="bold" text-anchor="end" fill="#222">LMG9814</text>
<path d="M468.4 320.8 V307.8 M464.1 307.8 h8.6" stroke="#3a3a3a" stroke-width="0.9" fill="none"/>
<rect x="459.6" y="320.8" width="17.6" height="70.0" fill="#d87b9d"/>
<path d="M468.4 390.8 v4.4" stroke="#3a3a3a" stroke-width="1"/>
<text x="468.4" y="304.0" font-size="11" text-anchor="middle" fill="#222">a</text>
<text transform="translate(470.8 403.4) rotate(-45) scale(0.94 1.05)" font-size="8.2" font-weight="bold" text-anchor="end" fill="#222">AGS84</text>
<path d="M490.7 332.2 V328.4 M486.4 328.4 h8.6" stroke="#3a3a3a" stroke-width="0.9" fill="none"/>
<rect x="481.9" y="332.2" width="17.6" height="58.6" fill="#aeb56a"/>
<path d="M490.7 390.8 v4.4" stroke="#3a3a3a" stroke-width="1"/>
<text x="490.7" y="324.6" font-size="11" text-anchor="middle" fill="#222">a</text>
<text transform="translate(493.1 403.4) rotate(-45) scale(0.94 1.05)" font-size="8.2" font-weight="bold" text-anchor="end" fill="#222">AGS108</text>
<path d="M512.9 356.0 V343.4 M508.6 343.4 h8.6" stroke="#3a3a3a" stroke-width="0.9" fill="none"/>
<rect x="504.1" y="356.0" width="17.6" height="34.8" fill="#69c5b1"/>
<path d="M512.9 390.8 v4.4" stroke="#3a3a3a" stroke-width="1"/>
<text x="512.9" y="339.6" font-size="11" text-anchor="middle" fill="#222">a</text>
<text transform="translate(515.3 403.4) rotate(-45) scale(0.94 1.05)" font-size="8.2" font-weight="bold" text-anchor="end" fill="#222">AGS54</text>
<path d="M329.0 270.2 V263.9 H518.4 V270.2" stroke="#3a3a3a" stroke-width="1" fill="none"/>
<text x="424.8" y="262.3" font-size="12" font-weight="bold" text-anchor="middle" fill="#222" stroke="#222" stroke-width="0.35" letter-spacing="-0.55">***</text>
<text transform="translate(287.6 324.9) rotate(-90) scale(0.93 1)" font-size="12.6" text-anchor="middle" fill="#222">Germination efficiency (%)</text>
</svg>
</body></html>
